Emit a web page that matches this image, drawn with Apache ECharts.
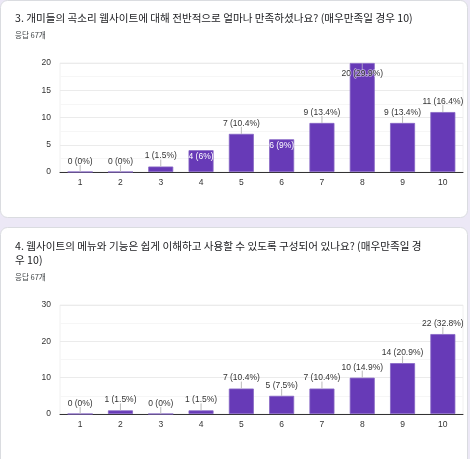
<!DOCTYPE html>
<html>
<head>
<meta charset="utf-8">
<script src="https://cdn.jsdelivr.net/npm/echarts@6/dist/echarts.min.js"></script>
<style>
  html, body { margin: 0; padding: 0; background: #ece8f6; }
  #chart { width: 470px; height: 459px; }
</style>
</head>
<body>
<div id="chart"></div>
<script>
const categories = ['1', '2', '3', '4', '5', '6', '7', '8', '9', '10']

const title1 = '3. 개미들의 곡소리 웹사이트에 대해 전반적으로 얼마나 만족하셨나요? (매우만족일 경우 10)'
const counts1 = [0, 0, 1, 4, 7, 6, 9, 20, 9, 11]
const pcts1 = ['0%', '0%', '1.5%', '6%', '10.4%', '9%', '13.4%', '29.9%', '13.4%', '16.4%']
const yTicks1 = { max: 20, interval: 5 }

const title2a = '4. 웹사이트의 메뉴와 기능은 쉽게 이해하고 사용할 수 있도록 구성되어 있나요? (매우만족일 경'
const title2b = '우 10)'
const counts2 = [0, 1, 0, 1, 7, 5, 7, 10, 14, 22]
const pcts2 = ['0%', '1.5%', '0%', '1.5%', '10.4%', '7.5%', '10.4%', '14.9%', '20.9%', '32.8%']
const yTicks2 = { max: 30, interval: 10 }

const responses = '응답 67개'

// which labels google drew inside the bar (chart 1 only)
const insideLabels1 = { 3: 'white', 5: 'white', 7: 'dark' }
const insideLabels2 = {}

const PURPLE = '#673ab7'
const LABEL_FONT = 'Arial, "Liberation Sans", sans-serif'
const KR_FONT = '"Noto Sans CJK KR", sans-serif'

const chart = echarts.init(document.getElementById('chart'), null, { renderer: 'canvas' })

function xAxis(gridIndex) {
  return {
    type: 'category', gridIndex, data: categories,
    axisLine: { lineStyle: { color: '#333', width: 1 } },
    axisTick: { show: false },
    axisLabel: { fontSize: 8.5, color: '#333', margin: 6, fontFamily: LABEL_FONT },
  }
}

function yAxis(gridIndex, ticks) {
  return {
    type: 'value', gridIndex, min: 0, max: ticks.max, interval: ticks.interval,
    axisLine: { show: false },
    axisTick: { show: false },
    axisLabel: { fontSize: 8.5, color: '#333', margin: 9, fontFamily: LABEL_FONT },
    splitLine: { lineStyle: { color: '#ebebeb' } },
    minorTick: { show: false, splitNumber: 2 },
    minorSplitLine: { show: true, lineStyle: { color: '#f6f6f6' } },
  }
}

function barSeries(idx, counts) {
  return {
    type: 'bar', xAxisIndex: idx, yAxisIndex: idx,
    data: counts,
    barWidth: 25,
    itemStyle: { color: PURPLE, borderColor: '#8565c4', borderWidth: 0.8 },
    silent: true,
  }
}

function labelSeries(idx, counts, pcts, inside) {
  return {
    type: 'custom', xAxisIndex: idx, yAxisIndex: idx, z: 5, silent: true,
    data: counts.map((v, i) => [i, v]),
    renderItem: (params, api) => {
      const i = params.dataIndex
      const pt = api.coord([api.value(0), api.value(1)])
      const x = pt[0], y = pt[1]
      const text = `${counts[i]} (${pcts[i]})`
      const mode = inside[i]
      const font = `8.5px ${LABEL_FONT}`
      if (mode === 'white') {
        return {
          type: 'text',
          style: { text, x, y: y + 6, font, fill: '#fff', align: 'center', verticalAlign: 'middle' },
        }
      }
      if (mode === 'dark') {
        return {
          type: 'group', children: [
            { type: 'line', shape: { x1: x, y1: y, x2: x, y2: y + 7 }, style: { stroke: '#a99bc8', lineWidth: 1 } },
            { type: 'text', style: { text, x, y: y + 11, font, fill: '#333', align: 'center', verticalAlign: 'middle',
              stroke: 'rgba(255,255,255,0.55)', lineWidth: 1.5 } },
          ],
        }
      }
      return {
        type: 'group', children: [
          { type: 'line', shape: { x1: x, y1: y, x2: x, y2: y - 7 }, style: { stroke: '#bbb', lineWidth: 1 } },
          { type: 'text', style: { text, x, y: y - 6, font, fill: '#333', align: 'center', verticalAlign: 'bottom' } },
        ],
      }
    },
  }
}

chart.setOption({
  backgroundColor: '#ece8f6',
  animation: false,
  graphic: [
    { type: 'rect', z: -100, shape: { x: 0.5, y: 0.5, width: 467, height: 217, r: 7 }, style: { fill: '#fff', stroke: '#dadce0', lineWidth: 1 } },
    { type: 'rect', z: -100, shape: { x: 0.5, y: 227.5, width: 467, height: 260, r: 7 }, style: { fill: '#fff', stroke: '#dadce0', lineWidth: 1 } },
    { type: 'text', left: 15, top: 13, style: { text: title1, font: `10.6px ${KR_FONT}`, fill: '#202124' } },
    { type: 'text', left: 15, top: 31, style: { text: responses, font: `7.5px ${KR_FONT}`, fill: '#3c4043' } },
    { type: 'text', left: 15, top: 241, style: { text: title2a, font: `10.6px ${KR_FONT}`, fill: '#202124' } },
    { type: 'text', left: 15, top: 255, style: { text: title2b, font: `10.6px ${KR_FONT}`, fill: '#202124' } },
    { type: 'text', left: 15, top: 273, style: { text: responses, font: `7.5px ${KR_FONT}`, fill: '#3c4043' } },
  ],
  grid: [
    { left: 60, right: 7, top: 63, height: 109, show: true, borderColor: '#f0f0f0', borderWidth: 1 },
    { left: 60, right: 7, top: 305, height: 109, show: true, borderColor: '#f0f0f0', borderWidth: 1 },
  ],
  xAxis: [xAxis(0), xAxis(1)],
  yAxis: [yAxis(0, yTicks1), yAxis(1, yTicks2)],
  series: [
    barSeries(0, counts1),
    barSeries(1, counts2),
    labelSeries(0, counts1, pcts1, insideLabels1),
    labelSeries(1, counts2, pcts2, insideLabels2),
  ],
})
</script>
</body>
</html>
